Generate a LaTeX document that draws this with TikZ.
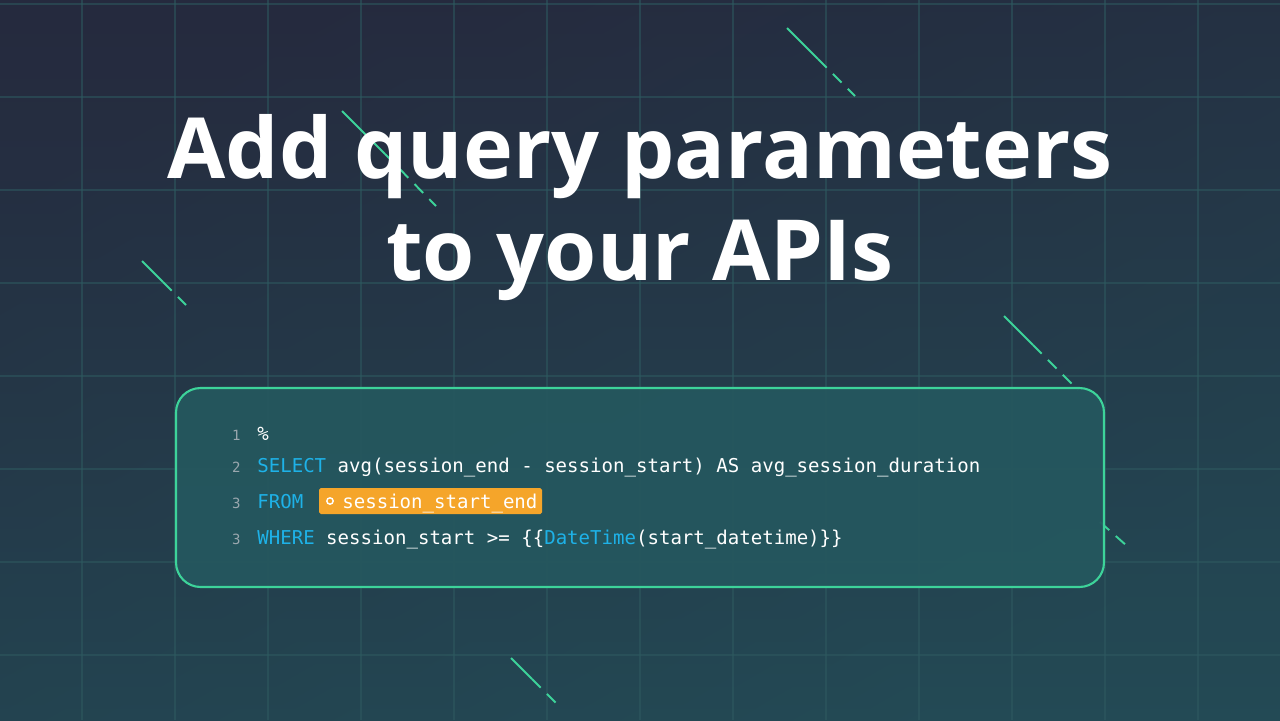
\documentclass[tikz,border=0pt]{standalone}
\usepackage{fontspec}
\setmainfont{Open Sans}
\setmonofont{DejaVu Sans Mono}
\usetikzlibrary{backgrounds}
\definecolor{bgA}{HTML}{252A3E}
\definecolor{bgB}{HTML}{234A55}
\definecolor{gridc}{HTML}{2E5A60}
\definecolor{mint}{HTML}{3DD39A}
\definecolor{kw}{HTML}{1EB2E8}
\definecolor{orng}{HTML}{F5A52A}
\definecolor{boxf}{HTML}{25575E}
\definecolor{lnum}{HTML}{9AA7AE}
\tikzset{
 gridline/.style={gridc,line width=0.8pt,opacity=0.55},
 diag/.style={mint,line width=1.1pt},
 diagd/.style={mint,line width=1.1pt,dash pattern=on 7pt off 5pt},
 codeline/.style={anchor=base west,font=\ttfamily\fontsize{10.85}{12}\selectfont,text=white,inner sep=0pt},
 numline/.style={anchor=base east,font=\ttfamily\fontsize{8}{10}\selectfont,text=lnum,inner sep=0pt},
 title/.style={anchor=base,font=\fontsize{48}{52}\selectfont\bfseries,text=white,inner sep=0pt}
}
\newcommand{\kwd}[1]{\textcolor{kw}{#1}}
\begin{document}
\begin{tikzpicture}[x=0.02cm,y=-0.02cm]
\useasboundingbox (0,0) rectangle (1280,720);
\shade[left color=bgA,right color=bgB,shading angle=30] (0,0) rectangle (1280,720);
\shade[top color=bgA,bottom color=bgB,opacity=0.6] (0,0) rectangle (1280,720);
\foreach \x in {82,175,...,1198} \draw[gridline] (\x,0) -- (\x,720);
\foreach \y in {4,97,...,700} \draw[gridline] (0,\y) -- (1280,\y);
% diagonals
\draw[diag] (787,28) -- (818,59); \draw[diagd] (818,59) -- (855,96);
\draw[diag] (342,111) -- (385,154); \draw[diagd] (385,154) -- (436,206);
\draw[diag] (142,261) -- (163,282); \draw[diagd] (163,282) -- (186,305);
\draw[diag] (1004,316) -- (1033,345); \draw[diagd] (1033,345) -- (1078,390);
\draw[diagd] (1100,522) -- (1127,546);
\draw[diag] (511,658) -- (532,679); \draw[diagd] (532,679) -- (556,703);
% title
\node[title] (t1) at (640,178) {Add query parameters};
\node[title] (t2) at (640,280) {to your APIs};
% code box
\draw[mint,line width=1.2pt,fill=boxf,fill opacity=0.95,rounded corners=14pt] (176,388) rectangle (1104,587);
\node[inner sep=0pt] (box) at (640,487) {};
\fill[orng,rounded corners=1pt] (319,488) rectangle (542,514);
\node[numline] (n1) at (241,440) {1};
\node[numline] (n2) at (241,472) {2};
\node[numline] (n3) at (241,508) {3};
\node[numline] (n4) at (241,544) {3};
\node[codeline] (c1) at (257,440) {\%};
\node[codeline] (c2) at (257,472) {\kwd{SELECT} avg(session\_end - session\_start) AS avg\_session\_duration};
\node[codeline] (c3) at (257,508) {\kwd{FROM}};
\node[codeline] (c3b) at (342,508) {session\_start\_end};
\draw[white,line width=0.8pt] (330,501) circle (3.2);
\node[codeline] (c4) at (257,544) {\kwd{WHERE} session\_start >= \{\{\kwd{DateTime}(start\_datetime)\}\}};
\end{tikzpicture}
\end{document}
